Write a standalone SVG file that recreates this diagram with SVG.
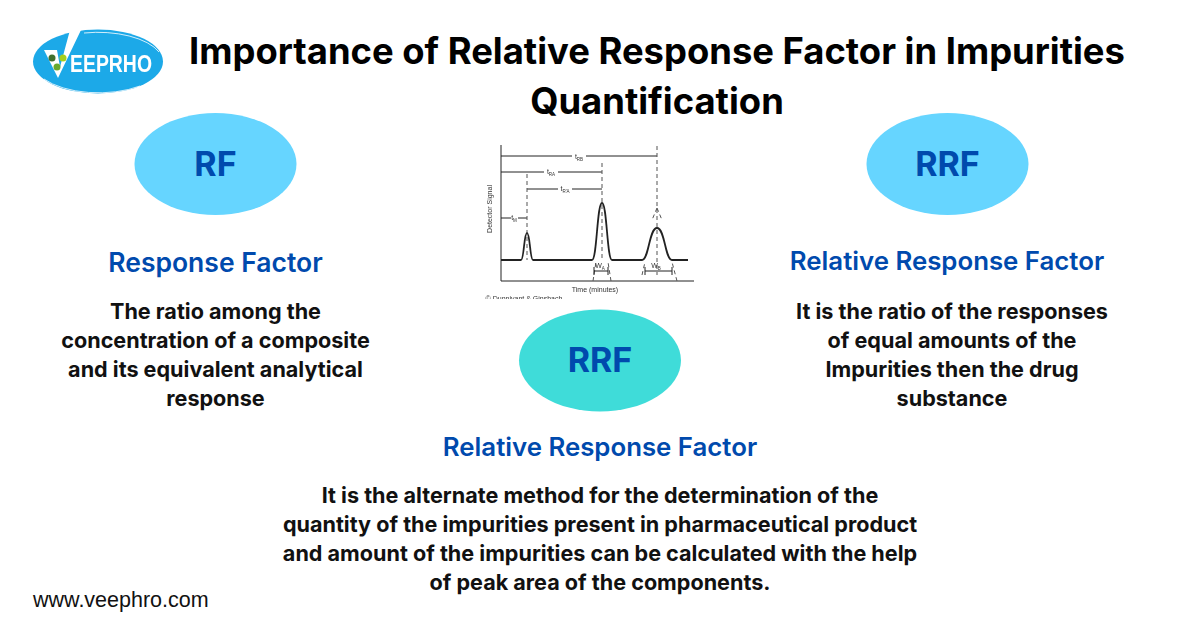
<svg xmlns="http://www.w3.org/2000/svg" width="1200" height="628" viewBox="0 0 1200 628">
<style>
text{font-family:"Inter","Noto Sans",sans-serif;text-anchor:middle}
.title{font-size:36.400px;font-weight:700;fill:#000}
.badge{font-size:34px;font-weight:700;fill:#004aad}
.head{font-size:25.800px;font-weight:600;fill:#004aad}
.body{font-size:21.600px;font-weight:700;fill:#111}
.c{font-family:"Liberation Sans",sans-serif;fill:#333;font-size:7px}
.s{font-size:4.500px}
.ln{fill:none;stroke:#222;stroke-width:1}
.da{fill:none;stroke:#555;stroke-width:1;stroke-dasharray:4 3}
</style>
<defs>
<filter id="b" x="-5%" y="-5%" width="110%" height="110%"><feGaussianBlur stdDeviation="0.6"/></filter>
<filter id="l" x="-5%" y="-5%" width="110%" height="110%"><feGaussianBlur stdDeviation="0.35"/></filter>
<clipPath id="cc"><rect x="463" y="135" width="236" height="164"/></clipPath>
</defs>
<rect width="1200" height="628" fill="#fff"/>
<g id="logo" filter="url(#l)">
<ellipse cx="98" cy="61.500" rx="65" ry="32" fill="#1ea9e8"/>
<path d="M84 33A65 30 0 0 1 159 52M44 79A65 30 0 0 0 140 86" fill="none" stroke="#fff" stroke-width=".8"/>
<path d="M44 50H57L60 67L70 30H81L58 78Z" fill="#fff"/>
<circle cx="52" cy="58" r="3.500" fill="#3f6f2e"/><circle cx="63" cy="58" r="3.500" fill="#a5cf1e"/><circle cx="57" cy="67" r="3.500" fill="#69a92d"/>
<text x="111" y="72" style="font-family:'Liberation Sans',sans-serif;font-size:23px;font-weight:700;fill:#fff" textLength="82" lengthAdjust="spacingAndGlyphs">EEPRHO</text>
</g>
<g id="title">
<text class="title" x="657" y="63.500">Importance of Relative Response Factor in Impurities</text>
<text class="title" x="657" y="113.500">Quantification</text>
</g>
<g id="rf-left">
<ellipse cx="215.500" cy="164" rx="81" ry="51" fill="#66d5ff"/>
<text class="badge" x="215.500" y="176">RF</text>
<text class="head" x="215.500" y="272" style="font-size:26.500px">Response Factor</text>
<text class="body" x="215.500" y="319">The ratio among the</text>
<text class="body" x="215.500" y="348">concentration of a composite</text>
<text class="body" x="215.500" y="377">and its equivalent analytical</text>
<text class="body" x="215.500" y="406">response</text>
</g>
<g id="rrf-right">
<ellipse cx="947.500" cy="164" rx="81" ry="51" fill="#66d5ff"/>
<text class="badge" x="947.500" y="176">RRF</text>
<text class="head" x="947" y="270">Relative Response Factor</text>
<text class="body" x="952" y="319">It is the ratio of the responses</text>
<text class="body" x="952" y="348">of equal amounts of the</text>
<text class="body" x="952" y="377">Impurities then the drug</text>
<text class="body" x="952" y="406">substance</text>
</g>
<g id="rrf-center">
<ellipse cx="600" cy="360.500" rx="81" ry="51" fill="#3fdcd9"/>
<text class="badge" x="600" y="372">RRF</text>
<text class="head" x="600" y="456">Relative Response Factor</text>
<text class="body" x="600" y="503">It is the alternate method for the determination of the</text>
<text class="body" x="600" y="532">quantity of the impurities present in pharmaceutical product</text>
<text class="body" x="600" y="561">and amount of the impurities can be calculated with the help</text>
<text class="body" x="600" y="590">of peak area of the components.</text>
</g>
<g id="chromatogram" clip-path="url(#cc)">
<g filter="url(#b)">
<path class="ln" d="M501 145V281H694"/>
<path class="ln" d="M501 156H572M586 156H657M501 172H544M558 172H602M527 189H558M572 189H602M501 218H511M518 218H527"/>
<path class="da" d="M527 174V260M602 163V260M657 146V275"/>
<path d="M501 260H521C524 260 524 233 527 233C530 233 530 260 533 260H592C597 260 597 203 602 203C607 203 607 260 612 260H642C649 260 649 228 657 228C665 228 665 260 672 260H688" fill="none" stroke="#222" stroke-width="1.800"/>
<path class="da" d="M593 281L596 262M611 281L608 262M642 275L645 262M677 281L672 262M657 208L652 220M657 208L662 220" stroke-width=".7"/>
<path class="ln" d="M594 271H608M594 267V275M608 267V275M645 271H672M645 267V275M672 267V275"/>
<text class="c" x="579" y="159">t<tspan class="s" dy="1.500">RB</tspan></text>
<text class="c" x="551" y="174">t<tspan class="s" dy="1.500">RA</tspan></text>
<text class="c" x="565" y="191">t<tspan class="s" dy="1.500">R'A</tspan></text>
<text class="c" x="514" y="220">t<tspan class="s" dy="1.500">M</tspan></text>
<text class="c" x="600" y="268">W<tspan class="s" dy="1.500">A</tspan></text>
<text class="c" x="656" y="268">W<tspan class="s" dy="1.500">B</tspan></text>
<text class="c" x="595" y="292">Time (minutes)</text>
<text class="c" transform="translate(492 209) rotate(-90)">Detector Signal</text>
<text class="c" x="524" y="301">© Dunnivant &amp; Ginsbach</text>
</g>
</g>
<text id="website" x="33" y="607" style="text-anchor:start;font-family:'Liberation Sans',sans-serif;font-size:21.500px;fill:#111">www.veephro.com</text>
</svg>
